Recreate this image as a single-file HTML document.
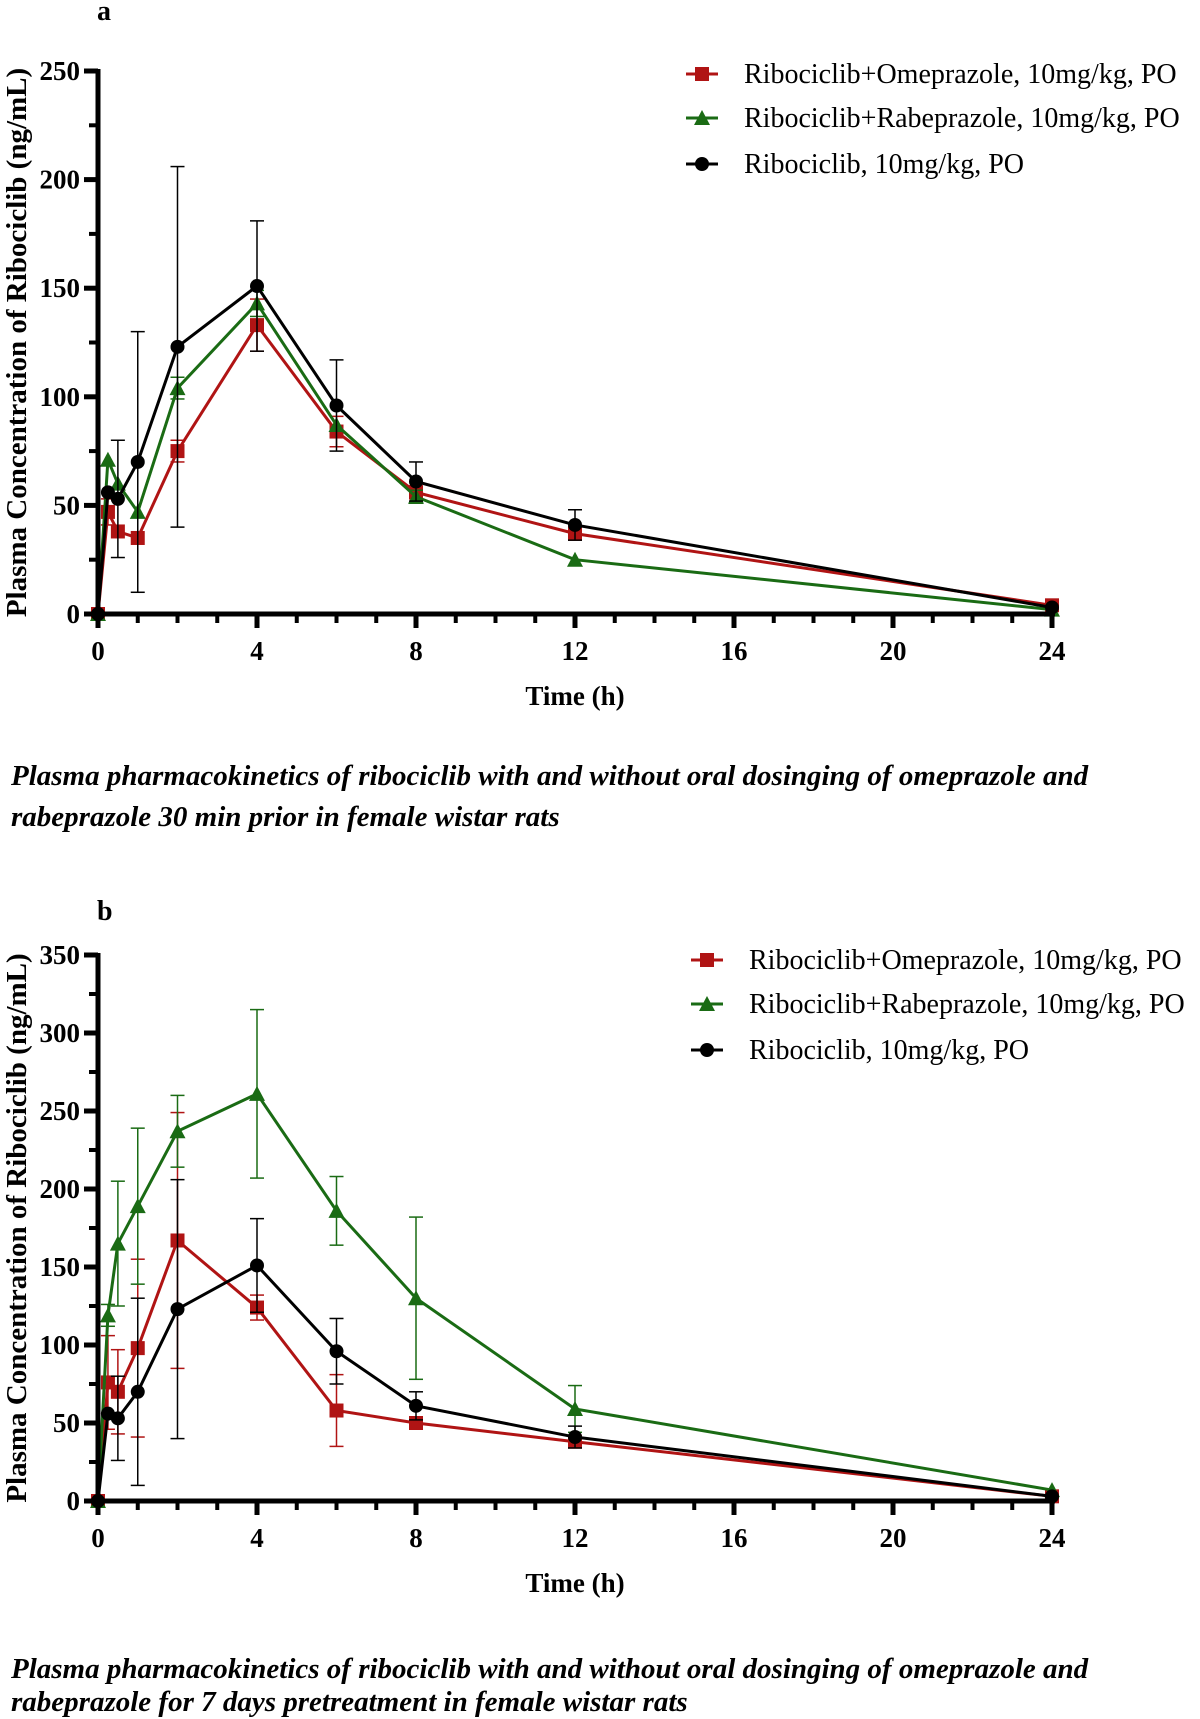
<!DOCTYPE html>
<html><head><meta charset="utf-8"><style>
body{margin:0;background:#fff;width:1200px;height:1719px;overflow:hidden}
svg{display:block}
text{font-family:"Liberation Serif",serif}
</style></head><body>
<svg id="fig" width="1200" height="1719"></svg>
<script>
const times=[0,0.25,0.5,1,2,4,6,8,12,24];
const aOme=[0,47,38,35,75,133,84,56,37,4];
const aOmeErr=[0,6,0,0,5,12,7,3,3,0];
const aRab=[0,71,60,47,104,143,87,54,25,2];
const aRabErr=[0,0,0,0,5,6,0,3,0,0];
const aRib=[0,56,53,70,123,151,96,61,41,3];
const aRibErr=[0,0,27,60,83,30,21,9,7,0];
const bOme=[0,76,70,98,167,124,58,50,38,3];
const bOmeErr=[0,30,27,57,82,8,23,0,3,0];
const bRab=[0,119,165,189,237,261,186,130,59,7];
const bRabErr=[0,7,40,50,23,54,22,52,15,0];
const bRib=aRib;
const bRibErr=aRibErr;
const xTicks=[0,4,8,12,16,20,24];
const aYTicks=[0,50,100,150,200,250];
const bYTicks=[0,50,100,150,200,250,300,350];
const legendLabels=["Ribociclib+Omeprazole, 10mg/kg, PO","Ribociclib+Rabeprazole, 10mg/kg, PO","Ribociclib, 10mg/kg, PO"];
const colors=["#b01414","#1a6b14","#000"];
const shapes=["sq","tri","circ"];

const NS="http://www.w3.org/2000/svg";
const svg=document.getElementById('fig');
function mk(tag,attrs,parent,txt){const e=document.createElementNS(NS,tag);for(const k in attrs)e.setAttribute(k,attrs[k]);if(txt!==undefined)e.textContent=txt;(parent||svg).appendChild(e);return e;}
function marker(g,shape,x,y,c,s){
  let e;
  if(shape==="sq")e=mk('rect',{x:x-s,y:y-s,width:2*s,height:2*s,fill:c},g);
  else if(shape==="tri")e=mk('polygon',{points:`${x},${y-s-1} ${x-s-1},${y+s} ${x+s+1},${y+s}`,fill:c},g);
  else e=mk('circle',{cx:x,cy:y,r:s,fill:c},g);
  return e;
}
function chart(o){
  const g=mk('g',{});
  
  
  const X=t=>98+t*(1052-98)/24;
  const Y=v=>o.y0-v*(o.y0-o.yTop)/o.ymax;
  const lt=mk('text',{x:97,y:o.letterY,'font-size':28,'font-weight':'bold'},g,o.letter);
  
  o.series.forEach((s,i)=>{
    const sg=mk('g',{},g);
    
    
    s.v.forEach((v,j)=>{if(s.e[j]>0){const x=X(times[j]);
      mk('line',{x1:x,x2:x,y1:Y(v-s.e[j]),y2:Y(v+s.e[j]),stroke:colors[i],'stroke-width':1.5},sg);
      [v-s.e[j],v+s.e[j]].forEach(w=>mk('line',{x1:x-7,x2:x+7,y1:Y(w),y2:Y(w),stroke:colors[i],'stroke-width':1.5},sg));}});
    mk('polyline',{points:s.v.map((v,j)=>X(times[j])+','+Y(v)).join(' '),fill:'none',stroke:colors[i],'stroke-width':3},sg);
    s.v.forEach((v,j)=>{const m=marker(sg,shapes[i],X(times[j]),Y(v),colors[i],7);
      });
  });
  mk('line',{x1:98,x2:98,y1:o.yTop-2,y2:o.y0+3,stroke:'#000','stroke-width':5},g);
  mk('line',{x1:95.5,x2:1055,y1:o.y0,y2:o.y0,stroke:'#000','stroke-width':5},g);
  for(let t=0;t<=24;t++){const x=X(t);const big=t%4===0;
    mk('line',{x1:x,x2:x,y1:o.y0,y2:o.y0+(big?14:9),stroke:'#000','stroke-width':big?5:4},g);}
  xTicks.forEach(t=>{const e=mk('text',{x:X(t),y:o.y0+46,'font-size':27,'font-weight':'bold','text-anchor':'middle'},g,t);
    });
  for(let v=0;v<=o.ymax;v+=25){const big=v%50===0;
    mk('line',{x1:98,x2:98-(big?14:9),y1:Y(v),y2:Y(v),stroke:'#000','stroke-width':big?5:4},g);}
  o.yTicks.forEach(v=>{const e=mk('text',{x:80,y:Y(v)+9,'font-size':27,'font-weight':'bold','text-anchor':'end'},g,v);
    });
  const xt=mk('text',{x:575,y:o.y0+91,'font-size':27,'font-weight':'bold','text-anchor':'middle'},g,'Time (h)');
  
  const cy=(o.y0+o.yTop)/2;
  const yt=mk('text',{x:0,y:0,'font-size':29,'font-weight':'bold','text-anchor':'middle',transform:`translate(26,${cy}) rotate(-90)`},g,'Plasma Concentration of Ribociclib (ng/mL)');
  
  legendLabels.forEach((l,i)=>{const ly=o.legY[i];
    const lg=mk('g',{},g);
    
    mk('line',{x1:o.legX-16,x2:o.legX+16,y1:ly,y2:ly,stroke:colors[i],'stroke-width':3},lg);
    marker(lg,shapes[i],o.legX,ly,colors[i],7);
    mk('text',{x:o.legX+42,y:ly+9,'font-size':28},lg,l);});
  o.cap.forEach((c,i)=>{const e=mk('text',{x:11,y:o.capY[i],'font-size':29,'font-weight':'bold','font-style':'italic'},g,c);
    });
}
chart({name:'chart-a',letter:'a',letterY:20,y0:614,yTop:71,ymax:250,yTicks:aYTicks,
  series:[{v:aOme,e:aOmeErr},{v:aRab,e:aRabErr},{v:aRib,e:aRibErr}],
  legX:702,legY:[74,118,164],
  cap:['Plasma pharmacokinetics of ribociclib with and without oral dosinging of omeprazole and','rabeprazole 30 min prior in female wistar rats'],capY:[785,826]});
chart({name:'chart-b',letter:'b',letterY:920,y0:1501,yTop:955,ymax:350,yTicks:bYTicks,
  series:[{v:bOme,e:bOmeErr},{v:bRab,e:bRabErr},{v:bRib,e:bRibErr}],
  legX:707,legY:[960,1004,1050],
  cap:['Plasma pharmacokinetics of ribociclib with and without oral dosinging of omeprazole and','rabeprazole for 7 days pretreatment in female wistar rats'],capY:[1678,1711]});
</script>
</body></html>
